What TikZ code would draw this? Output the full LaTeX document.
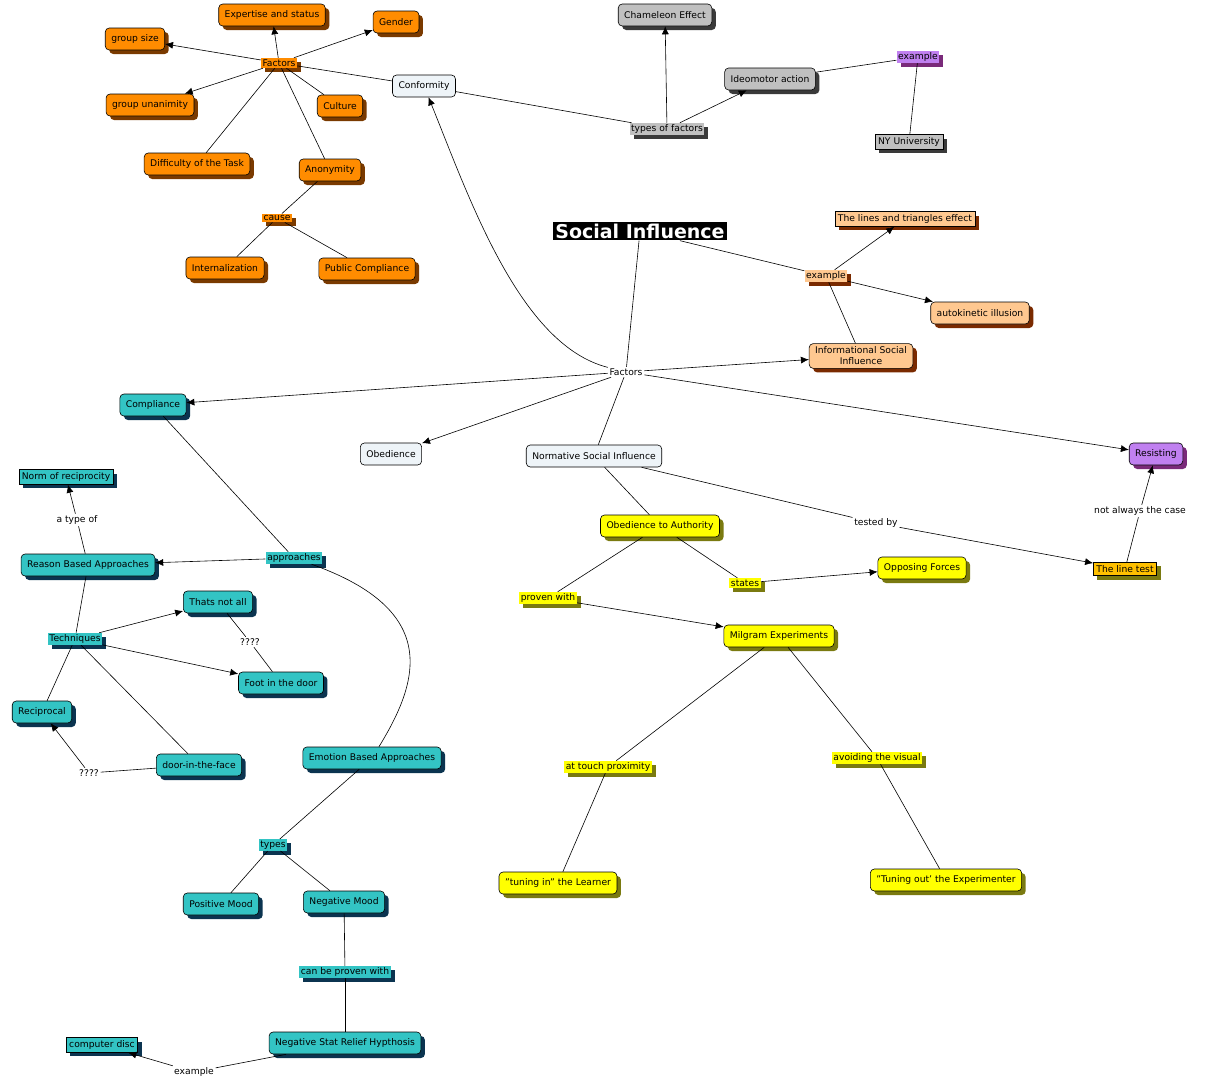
\documentclass[tikz,border=0pt]{standalone}
\usepackage{fontspec}
\setmainfont{DejaVu Sans}
\usetikzlibrary{shadows,arrows.meta}
\definecolor{or}{HTML}{FF8C00}\definecolor{ors}{HTML}{7A3A00}
\definecolor{te}{HTML}{33C4C4}\definecolor{tes}{HTML}{0B3450}
\definecolor{ye}{HTML}{FFFF00}\definecolor{yes}{HTML}{7A7A10}
\definecolor{gr}{HTML}{C0C0C0}\definecolor{grs}{HTML}{3A3A3A}
\definecolor{wh}{HTML}{EEF4F8}
\definecolor{sa}{HTML}{FFC890}\definecolor{sas}{HTML}{7A2A00}
\definecolor{pu}{HTML}{C080F0}\definecolor{pus}{HTML}{7A2A7A}
\definecolor{go}{HTML}{FFC000}
\begin{document}
\begin{tikzpicture}[x=1pt,y=-1pt,font=\fontsize{9.2}{11}\selectfont,
 sh/.style={general shadow={fill=#1,shadow xshift=4pt,shadow yshift=-4pt}},
 box/.style={draw=black,rounded corners=4pt,inner xsep=6pt,minimum height=22pt,fill=#1},
 ob/.style={box=or,sh=ors}, tb/.style={box=te,sh=tes}, yb/.style={box=ye,sh=yes},
 gb/.style={box=gr,sh=grs}, wb/.style={box=wh}, sb/.style={box=sa,sh=sas}, pb/.style={box=pu,sh=pus},
 lab/.style={fill=#1,inner sep=1.5pt},
 rb/.style={draw=black,inner sep=3pt,fill=#1},
 pl/.style={fill=white,inner sep=1.5pt},
 a/.style={-{Latex[length=8pt,width=7pt]}},
 every path/.style={line width=0.6pt}]
\path[use as bounding box] (0,0) rectangle (1207,1087);
% nodes
\node[ob] (exp) at (272,15) {Expertise and status};
\node[ob] (gen) at (396,22) {Gender};
\node[ob] (gs) at (135,39) {group size};
\node[lab=or,sh=ors] (fa1) at (279,63) {Factors};
\node[ob] (gu) at (150,105) {group unanimity};
\node[ob] (cul) at (340,106) {Culture};
\node[ob] (dif) at (197,164) {Difficulty of the Task};
\node[ob] (ano) at (330,170) {Anonymity};
\node[lab=or,sh=ors] (cau) at (277,218) {cause};
\node[ob] (int) at (225,268) {Internalization};
\node[ob] (pub) at (367,269) {Public Compliance};
\node[wb] (conf) at (424,86) {Conformity};
\node[gb] (cham) at (665,15) {Chameleon Effect};
\node[gb] (ideo) at (770,79) {Ideomotor action};
\node[lab=pu,sh=pus] (ex1) at (918,57) {example};
\node[rb=gr,sh=grs] (ny) at (909,142) {NY University};
\node[lab=gr,sh=grs] (tof) at (667,129) {types of factors};
\node[fill=black,text=white,font=\fontsize{19}{22}\selectfont\bfseries,inner sep=2pt] (si) at (640,231) {Social Influence};
\node[rb=sa,sh=sas] (lt) at (905,219) {The lines and triangles effect};
\node[lab=sa,sh=sas] (ex2) at (826,276) {example};
\node[sb] (auto) at (980,313) {autokinetic illusion};
\node[sb,align=center] (isi) at (861,356) {Informational Social\\Influence};
\node[pl] (fac) at (626,372) {Factors};
\node[tb] (comp) at (153,405) {Compliance};
\node[wb] (obe) at (391,454) {Obedience};
\node[wb] (nsi) at (594,456) {Normative Social Influence};
\node[pb] (res) at (1156,454) {Resisting};
\node[rb=te,sh=tes] (nor) at (66,477) {Norm of reciprocity};
\node[pl] (toa) at (77,520) {a type of};
\node[tb] (rba) at (88,565) {Reason Based Approaches};
\node[lab=te,sh=tes] (app) at (294,558) {approaches};
\node[yb] (ota) at (660,526) {Obedience to Authority};
\node[pl] (tb1) at (876,523) {tested by};
\node[pl] (nac) at (1140,511) {not always the case};
\node[rb=go,sh=yes] (line) at (1125,569) {The line test};
\node[lab=ye,sh=yes] (sta) at (745,583) {states};
\node[yb] (opp) at (922,568) {Opposing Forces};
\node[lab=ye,sh=yes] (pw) at (548,598) {proven with};
\node[tb] (tna) at (218,602) {Thats not all};
\node[lab=te,sh=tes] (tech) at (75,639) {Techniques};
\node[pl] (q1) at (250,642) {????};
\node[yb] (mil) at (779,636) {Milgram Experiments};
\node[tb] (foot) at (281,683) {Foot in the door};
\node[tb] (rec) at (42,712) {Reciprocal};
\node[tb] (door) at (199,765) {door-in-the-face};
\node[pl] (q2) at (89,773) {????};
\node[tb] (emo) at (372,758) {Emotion Based Approaches};
\node[lab=ye,sh=yes] (atp) at (608,767) {at touch proximity};
\node[lab=ye,sh=yes] (avo) at (877,758) {avoiding the visual};
\node[lab=te,sh=tes] (typ) at (273,845) {types};
\node[yb] (tin) at (558,883) {"tuning in" the Learner};
\node[yb] (tout) at (946,880) {"Tuning out' the Experimenter};
\node[tb] (pos) at (221,904) {Positive Mood};
\node[tb] (neg) at (344,902) {Negative Mood};
\node[lab=te,sh=tes] (cbp) at (345,972) {can be proven with};
\node[rb=te,sh=tes] (cd) at (102,1045) {computer disc};
\node[pl] (ex3) at (194,1072) {example};
\node[tb] (nsr) at (345,1043) {Negative Stat Relief Hypthosis};
% links
\draw[a] (fa1)--(exp); \draw[a] (fa1)--(gen); \draw[a] (fa1)--(gs); \draw[a] (fa1)--(gu);
\draw (fa1)--(cul); \draw (fa1)--(dif); \draw (fa1)--(ano); \draw (conf)--(fa1);
\draw (ano)--(cau); \draw (cau)--(int); \draw (cau)--(pub);
\draw (conf)--(tof); \draw[a] (tof)--(cham); \draw[a] (tof)--(ideo);
\draw (ideo)--(ex1); \draw (ex1)--(ny);
\draw (si)--(ex2); \draw[a] (ex2)--(lt); \draw[a] (ex2)--(auto); \draw (ex2)--(isi);
\draw (si)--(fac);
\draw[a] (fac) .. controls (520,345) and (470,200) .. (conf);
\draw[a] (fac)--(isi); \draw[a] (fac)--(comp); \draw[a] (fac)--(obe); \draw (fac)--(nsi); \draw[a] (fac)--(res);
\draw (nsi)--(ota); \draw (nsi)--(tb1); \draw[a] (tb1)--(line);
\draw (line)--(nac); \draw[a] (nac)--(res);
\draw (ota)--(sta); \draw[a] (sta)--(opp); \draw (ota)--(pw); \draw[a] (pw)--(mil);
\draw (mil)--(atp); \draw (atp)--(tin); \draw (mil)--(avo); \draw (avo)--(tout);
\draw (comp)--(app); \draw[a] (app)--(rba);
\draw (app) .. controls (440,610) and (420,680) .. (emo);
\draw (rba)--(toa); \draw[a] (toa)--(nor);
\draw (rba)--(tech); \draw[a] (tech)--(tna); \draw[a] (tech)--(foot); \draw (tech)--(rec); \draw (tech)--(door);
\draw (tna)--(q1); \draw (q1)--(foot);
\draw (door)--(q2); \draw[a] (q2)--(rec);
\draw (emo)--(typ); \draw (typ)--(pos); \draw (typ)--(neg);
\draw (neg)--(cbp); \draw (cbp)--(nsr);
\draw (nsr)--(ex3); \draw[a] (ex3)--(cd);
\end{tikzpicture}
\end{document}
